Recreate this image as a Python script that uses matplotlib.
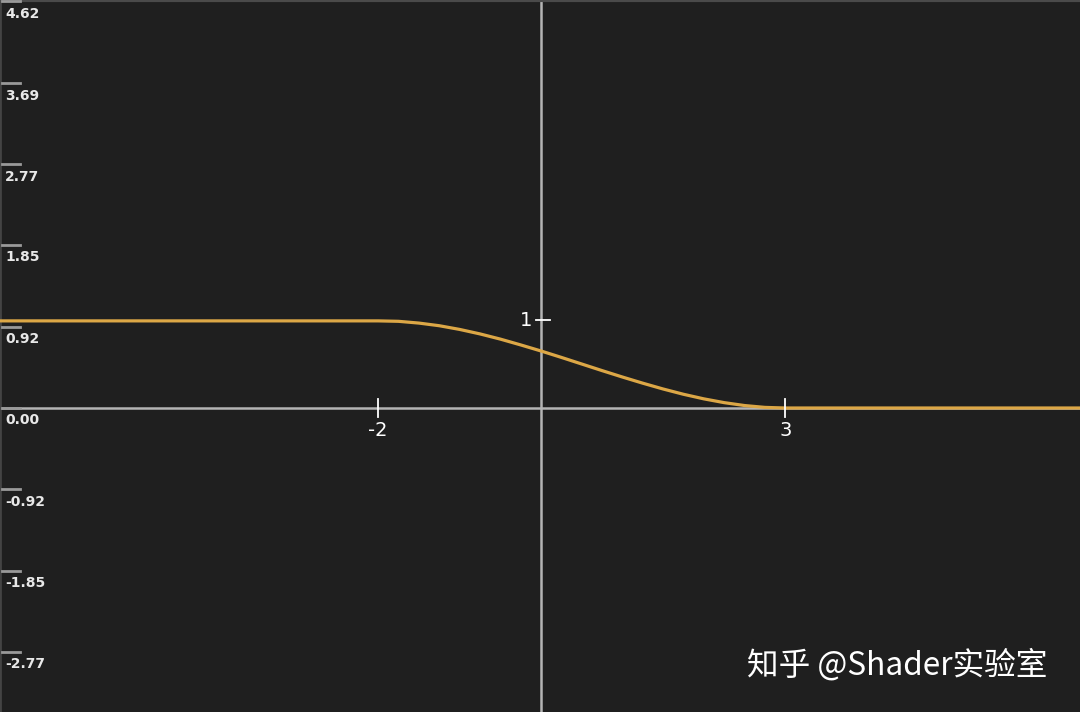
import matplotlib
matplotlib.use("Agg")
import matplotlib.pyplot as plt
import matplotlib.transforms as mtransforms

# curve values (1 - smoothstep(-2, 3, x) shape)
curve_x = [-6.7, -2.0, -1.75, -1.5, -1.25, -1.0, -0.75, -0.5, -0.25, 0.0, 0.25, 0.5,
           0.75, 1.0, 1.25, 1.5, 1.75, 2.0, 2.25, 2.5, 2.75, 3.0, 6.7]
curve_y = [0.99, 0.99, 0.985, 0.965, 0.935, 0.893, 0.842, 0.783, 0.717, 0.648, 0.575, 0.5,
           0.425, 0.352, 0.282, 0.216, 0.156, 0.104, 0.061, 0.028, 0.007, 0.0, 0.0]

# left side scale labels
ytick_vals = [4.62, 3.69, 2.77, 1.85, 0.924, 0.0, -0.924, -1.85, -2.77]
ytick_labels = ["4.62", "3.69", "2.77", "1.85", "0.92", "0.00", "-0.92", "-1.85", "-2.77"]

# marked points on the axes
xmarks = [-2, 3]
xmark_labels = ["-2", "3"]
ymarks = [1]
ymark_labels = ["1"]

bg = "#1f1f1f"
axis_col = "#b4b4b4"
curve_col = "#dca746"

fig = plt.figure(figsize=(10.8, 7.12), dpi=100, facecolor=bg)
ax = fig.add_axes([0, 0, 1, 1], facecolor=bg)
ax.set_xlim(-541 / 81.4, (1080 - 541) / 81.4)
ax.set_ylim(-(712 - 408) / 88.0, 408 / 88.0)
ax.set_xticks([])
ax.set_yticks([])
for s in ["right", "bottom"]:
    ax.spines[s].set_visible(False)
ax.spines["top"].set_color("#4a4a4a")
ax.spines["top"].set_linewidth(3)
ax.spines["left"].set_color("#444444")
ax.spines["left"].set_linewidth(2)

# main axes through origin
ax.axhline(0, color=axis_col, lw=1.8, zorder=1)
ax.axvline(0, color=axis_col, lw=1.8, zorder=1)

# the curve
ax.plot(curve_x, curve_y, color=curve_col, lw=2.3, zorder=3)

# ticks and labels on the x axis
for v, lab in zip(xmarks, xmark_labels):
    ax.plot([v, v], [-0.1, 0.1], color="white", lw=1.3, zorder=4)
    ax.text(v, -0.15, lab, color="white", fontsize=14, ha="center", va="top",
            family="DejaVu Sans")

# tick on the y axis
for v, lab in zip(ymarks, ymark_labels):
    ax.plot([-0.06, 0.11], [v, v], color="white", lw=1.3, zorder=4)
    ax.text(-0.11, v, lab, color="white", fontsize=14, ha="right", va="center",
            family="DejaVu Sans")

# left scale
trans = mtransforms.blended_transform_factory(ax.transAxes, ax.transData)
for v, lab in zip(ytick_vals, ytick_labels):
    ax.plot([2 / 1080, 20 / 1080], [v, v], color="#9a9a9a", lw=2, transform=trans, zorder=4)
    ax.text(5 / 1080, v - 0.06, lab, color="#e8e8e8", fontsize=10, fontweight="bold",
            ha="left", va="top", transform=trans, family="DejaVu Sans")

# watermark
fig.text(0.692, 0.065, "知乎 @Shader实验室", color="white", fontsize=22.8,
         family=["Noto Sans CJK SC", "DejaVu Sans"], ha="left", va="center")

fig.savefig("out.png", dpi=100, facecolor=bg)
